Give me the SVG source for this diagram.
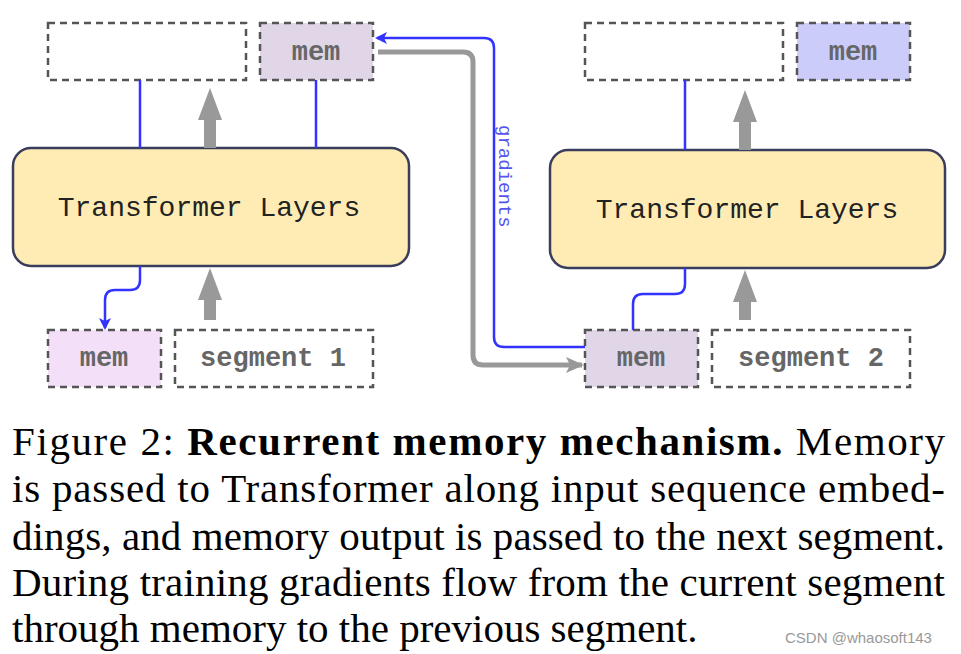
<svg xmlns="http://www.w3.org/2000/svg" width="961" height="654" viewBox="0 0 961 654">
<style>
.d{stroke:#555;stroke-width:2.5;stroke-dasharray:7,5}
.tl{fill:#ffecb5;stroke:#3a3d5c;stroke-width:2.5}
.m{font-family:"Liberation Mono",monospace;font-weight:bold;font-size:27px;fill:#666;text-anchor:middle}
.t{font-family:"Liberation Mono",monospace;font-size:28px;fill:#222;text-anchor:middle}
.b{fill:none;stroke:#3333ff;stroke-width:2.5}
.g{fill:none;stroke:#999;stroke-width:5}
.c{font-family:"Liberation Serif",serif;font-size:41px;fill:#000}
</style>
<defs>
<marker id="ab" markerWidth="12" markerHeight="12" refX="10" refY="6" orient="auto" markerUnits="userSpaceOnUse"><path d="M0,0 L12,6 L0,12 L3,6 Z" fill="#3333ff"/></marker>
<marker id="ag" markerWidth="18" markerHeight="16" refX="16" refY="8" orient="auto" markerUnits="userSpaceOnUse"><path d="M0,0 L18,8 L0,16 L4,8 Z" fill="#999"/></marker>
</defs>
<g id="left-out"><rect x="48" y="23" width="198" height="57" fill="#fff" class="d"/></g>
<g id="left-mem-out"><rect x="260" y="23" width="113" height="57" fill="#e0d6e8" class="d"/><text x="316" y="60" class="m">mem</text></g>
<g id="left-tl"><rect x="13" y="148" width="396" height="118" rx="18" class="tl"/><text x="209" y="216" class="t">Transformer Layers</text></g>
<g id="left-mem-in"><rect x="48" y="330" width="113" height="57" fill="#f3e0f8" class="d"/><text x="104" y="366" class="m">mem</text></g>
<g id="seg1"><rect x="175" y="330" width="198" height="57" fill="#fff" class="d"/><text x="273" y="366" class="m">segment 1</text></g>
<g id="right-out"><rect x="585" y="23" width="198" height="57" fill="#fff" class="d"/></g>
<g id="right-mem-out"><rect x="797" y="23" width="113" height="57" fill="#ccccfa" class="d"/><text x="853" y="60" class="m">mem</text></g>
<g id="right-tl"><rect x="550" y="150" width="395" height="118" rx="18" class="tl"/><text x="747" y="218" class="t">Transformer Layers</text></g>
<g id="right-mem-in"><rect x="585" y="330" width="113" height="57" fill="#e0d6e8" class="d"/><text x="641" y="366" class="m">mem</text></g>
<g id="seg2"><rect x="712" y="330" width="198" height="57" fill="#fff" class="d"/><text x="811" y="366" class="m">segment 2</text></g>
<g id="connectors">
<path d="M140 80 V148 M316 80 V148" class="b"/>
<path d="M685 80 V150" class="b"/>
<path d="M140 266 V280 Q140 290 130 290 H115 Q105 290 105 300 V328" class="b" marker-end="url(#ab)"/>
<path d="M685 268 V284 Q685 294 675 294 H643 Q633 294 633 304 V330" class="b"/>
<path d="M585 347 H504 Q494 347 494 337 V48 Q494 38 484 38 H377" class="b" marker-end="url(#ab)"/>
<path d="M378 52 H463 Q473 52 473 62 V355 Q473 365 483 365 H582" class="g" marker-end="url(#ag)"/>
<path d="M204 148 V120 H198 L210 88 L222 120 H216 V148 Z" fill="#999"/>
<path d="M204 320 V300 H198 L210 268 L222 300 H216 V320 Z" fill="#999"/>
<path d="M739 150 V122 H733 L745 90 L757 122 H751 V150 Z" fill="#999"/>
<path d="M739 320 V302 H733 L745 270 L757 302 H751 V320 Z" fill="#999"/>
<text x="0" y="0" transform="translate(499,125) rotate(90)" font-family="Liberation Mono,monospace" font-size="19" fill="#5555ee">gradients</text>
</g>
<text x="12" y="455" class="c" textLength="933" lengthAdjust="spacing">Figure 2: <tspan font-weight="bold">Recurrent memory mechanism.</tspan> Memory</text>
<text x="12" y="502" class="c" textLength="933" lengthAdjust="spacing">is passed to Transformer along input sequence embed-</text>
<text x="12" y="550" class="c" textLength="933" lengthAdjust="spacing">dings, and memory output is passed to the next segment.</text>
<text x="12" y="596" class="c" textLength="933" lengthAdjust="spacing">During training gradients flow from the current segment</text>
<text x="12" y="642" class="c">through memory to the previous segment.</text>
<text x="785" y="643" font-family="Liberation Sans,sans-serif" font-size="15" fill="#999">CSDN @whaosoft143</text>
</svg>
